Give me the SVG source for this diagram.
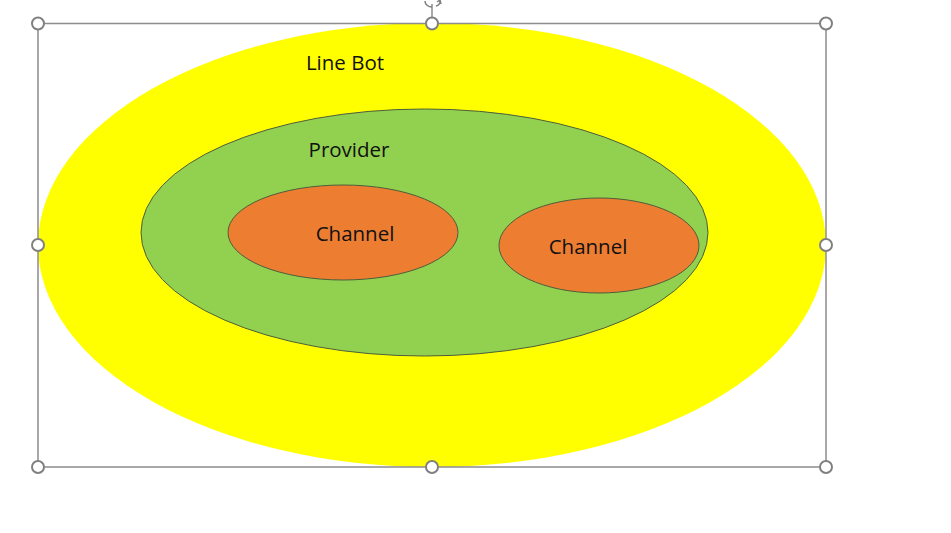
<svg xmlns="http://www.w3.org/2000/svg" width="951" height="533" viewBox="0 0 951 533">
<style>
.lbl{font-family:"Open Sans","Liberation Sans",sans-serif;font-size:20.5px;fill:#111}
.h{fill:#fff;stroke:#808080;stroke-width:2}
.inner{stroke:#4d5e3a;stroke-width:1}
</style>
<rect width="951" height="533" fill="#fff"/>
<g id="linebot">
<ellipse cx="432" cy="245" rx="394" ry="222" fill="#ffff00"/>
<text class="lbl" x="345" y="70" text-anchor="middle">Line Bot</text>
</g>
<g id="provider">
<ellipse class="inner" cx="424.5" cy="232.5" rx="283.5" ry="123.5" fill="#92d050"/>
<text class="lbl" x="349" y="157" text-anchor="middle">Provider</text>
</g>
<g id="channel1">
<ellipse class="inner" cx="343" cy="232.5" rx="115" ry="47.5" fill="#ed7d31"/>
<text class="lbl" x="355" y="241" text-anchor="middle">Channel</text>
</g>
<g id="channel2">
<ellipse class="inner" cx="599" cy="245.5" rx="100" ry="47.5" fill="#ed7d31"/>
<text class="lbl" x="588" y="254" text-anchor="middle">Channel</text>
</g>
<g id="selection">
<rect x="38" y="23.5" width="788" height="443.5" fill="none" stroke="#8c8c8c" stroke-width="1.5"/>
<line x1="432" y1="4" x2="432" y2="18" stroke="#8c8c8c" stroke-width="1.5"/>
<path d="M425 1 A7 6 0 0 0 432 7 M436 6 A6 5 0 0 0 440 1 M437 2 l3 -2 l1 4" fill="none" stroke="#808080" stroke-width="1.5"/>
<circle class="h" cx="38" cy="23.5" r="6"/>
<circle class="h" cx="432" cy="23.5" r="6"/>
<circle class="h" cx="826" cy="23.5" r="6"/>
<circle class="h" cx="38" cy="245" r="6"/>
<circle class="h" cx="826" cy="245" r="6"/>
<circle class="h" cx="38" cy="467" r="6"/>
<circle class="h" cx="432" cy="467" r="6"/>
<circle class="h" cx="826" cy="467" r="6"/>
</g>
</svg>
